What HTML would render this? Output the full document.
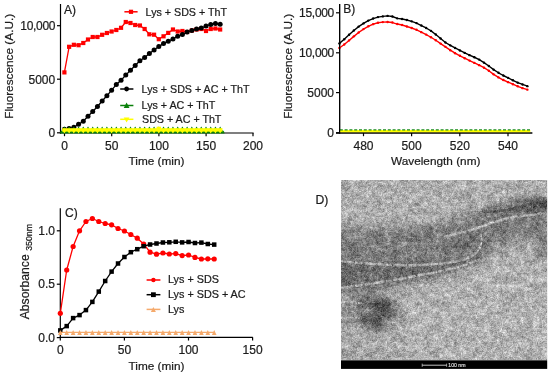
<!DOCTYPE html>
<html><head><meta charset="utf-8"><title>Figure</title>
<style>
html,body{margin:0;padding:0;background:#fff;width:550px;height:375px;overflow:hidden}
svg{display:block}
text{font-family:"Liberation Sans", Arial, Helvetica, sans-serif;fill:#1c1c1c;stroke:#1c1c1c;stroke-width:0.22px}
</style></head><body>
<svg width="550" height="375" viewBox="0 0 550 375">
<rect width="550" height="375" fill="#fff"/>
<line x1="60.5" y1="4" x2="60.5" y2="133.6" stroke="#000" stroke-width="1.2"/>
<line x1="59.9" y1="133" x2="253.6" y2="133" stroke="#000" stroke-width="1.2"/>
<line x1="57" y1="25.7" x2="60.5" y2="25.7" stroke="#000" stroke-width="1.2"/>
<text x="55.2" y="30.0" font-size="12.0" text-anchor="end" letter-spacing="-0.3">10,000</text>
<line x1="57" y1="79.2" x2="60.5" y2="79.2" stroke="#000" stroke-width="1.2"/>
<text x="55.2" y="83.5" font-size="12.0" text-anchor="end" >5000</text>
<line x1="57" y1="132.8" x2="60.5" y2="132.8" stroke="#000" stroke-width="1.2"/>
<text x="55.2" y="137.10000000000002" font-size="12.0" text-anchor="end" >0</text>
<line x1="64.5" y1="133" x2="64.5" y2="136.2" stroke="#000" stroke-width="1.2"/>
<text x="64.5" y="149.6" font-size="12.0" text-anchor="middle" >0</text>
<line x1="111.7" y1="133" x2="111.7" y2="136.2" stroke="#000" stroke-width="1.2"/>
<text x="111.7" y="149.6" font-size="12.0" text-anchor="middle" >50</text>
<line x1="158.9" y1="133" x2="158.9" y2="136.2" stroke="#000" stroke-width="1.2"/>
<text x="158.9" y="149.6" font-size="12.0" text-anchor="middle" >100</text>
<line x1="206.1" y1="133" x2="206.1" y2="136.2" stroke="#000" stroke-width="1.2"/>
<text x="206.1" y="149.6" font-size="12.0" text-anchor="middle" >150</text>
<line x1="253.0" y1="133" x2="253.0" y2="136.2" stroke="#000" stroke-width="1.2"/>
<text x="253.0" y="149.6" font-size="12.0" text-anchor="middle" >200</text>
<text x="156.5" y="165.4" font-size="11.8" text-anchor="middle" >Time (min)</text>
<text transform="translate(13.4,66.3) rotate(-90)" font-size="11.8" text-anchor="middle">Fluorescence (A.U.)</text>
<text x="64.0" y="13.5" font-size="12" text-anchor="start" >A)</text>
<polyline points="64.40,72.40 69.12,46.80 73.84,44.80 78.56,45.20 83.28,43.00 88.00,39.50 92.72,37.00 97.44,37.00 102.16,34.80 106.88,33.00 111.60,31.50 116.32,30.00 121.04,27.80 125.76,22.00 130.48,23.00 135.20,25.00 139.92,25.50 144.64,29.00 149.36,34.30 154.08,34.70 158.80,39.20 163.52,36.30 168.24,32.90 172.96,29.50 177.68,31.50 182.40,31.00 187.12,32.00 191.84,30.50 196.56,29.50 201.28,29.00 206.00,31.00 210.72,29.00 215.44,28.50 220.16,29.50" fill="none" stroke="#ff0000" stroke-width="1.3" stroke-linejoin="round"/>
<rect x="62.30" y="70.30" width="4.2" height="4.2" fill="#ff0000"/>
<rect x="67.02" y="44.70" width="4.2" height="4.2" fill="#ff0000"/>
<rect x="71.74" y="42.70" width="4.2" height="4.2" fill="#ff0000"/>
<rect x="76.46" y="43.10" width="4.2" height="4.2" fill="#ff0000"/>
<rect x="81.18" y="40.90" width="4.2" height="4.2" fill="#ff0000"/>
<rect x="85.90" y="37.40" width="4.2" height="4.2" fill="#ff0000"/>
<rect x="90.62" y="34.90" width="4.2" height="4.2" fill="#ff0000"/>
<rect x="95.34" y="34.90" width="4.2" height="4.2" fill="#ff0000"/>
<rect x="100.06" y="32.70" width="4.2" height="4.2" fill="#ff0000"/>
<rect x="104.78" y="30.90" width="4.2" height="4.2" fill="#ff0000"/>
<rect x="109.50" y="29.40" width="4.2" height="4.2" fill="#ff0000"/>
<rect x="114.22" y="27.90" width="4.2" height="4.2" fill="#ff0000"/>
<rect x="118.94" y="25.70" width="4.2" height="4.2" fill="#ff0000"/>
<rect x="123.66" y="19.90" width="4.2" height="4.2" fill="#ff0000"/>
<rect x="128.38" y="20.90" width="4.2" height="4.2" fill="#ff0000"/>
<rect x="133.10" y="22.90" width="4.2" height="4.2" fill="#ff0000"/>
<rect x="137.82" y="23.40" width="4.2" height="4.2" fill="#ff0000"/>
<rect x="142.54" y="26.90" width="4.2" height="4.2" fill="#ff0000"/>
<rect x="147.26" y="32.20" width="4.2" height="4.2" fill="#ff0000"/>
<rect x="151.98" y="32.60" width="4.2" height="4.2" fill="#ff0000"/>
<rect x="156.70" y="37.10" width="4.2" height="4.2" fill="#ff0000"/>
<rect x="161.42" y="34.20" width="4.2" height="4.2" fill="#ff0000"/>
<rect x="166.14" y="30.80" width="4.2" height="4.2" fill="#ff0000"/>
<rect x="170.86" y="27.40" width="4.2" height="4.2" fill="#ff0000"/>
<rect x="175.58" y="29.40" width="4.2" height="4.2" fill="#ff0000"/>
<rect x="180.30" y="28.90" width="4.2" height="4.2" fill="#ff0000"/>
<rect x="185.02" y="29.90" width="4.2" height="4.2" fill="#ff0000"/>
<rect x="189.74" y="28.40" width="4.2" height="4.2" fill="#ff0000"/>
<rect x="194.46" y="27.40" width="4.2" height="4.2" fill="#ff0000"/>
<rect x="199.18" y="26.90" width="4.2" height="4.2" fill="#ff0000"/>
<rect x="203.90" y="28.90" width="4.2" height="4.2" fill="#ff0000"/>
<rect x="208.62" y="26.90" width="4.2" height="4.2" fill="#ff0000"/>
<rect x="213.34" y="26.40" width="4.2" height="4.2" fill="#ff0000"/>
<rect x="218.06" y="27.40" width="4.2" height="4.2" fill="#ff0000"/>
<polyline points="64.40,129.30 69.12,128.60 73.84,127.30 78.56,124.20 83.28,121.20 88.00,116.30 92.72,111.50 97.44,106.50 102.16,101.00 106.88,95.80 111.60,90.20 116.32,84.60 121.04,80.20 125.76,75.10 130.48,70.20 135.20,65.50 139.92,60.80 144.64,57.50 149.36,53.50 154.08,50.00 158.80,46.40 163.52,43.60 168.24,41.20 172.96,39.00 177.68,36.20 182.40,34.50 187.12,32.00 191.84,30.50 196.56,29.00 201.28,28.00 206.00,26.00 210.72,24.50 215.44,23.50 220.16,24.30" fill="none" stroke="#000" stroke-width="1.3" stroke-linejoin="round"/>
<circle cx="64.40" cy="129.30" r="2.5" fill="#000"/>
<circle cx="69.12" cy="128.60" r="2.5" fill="#000"/>
<circle cx="73.84" cy="127.30" r="2.5" fill="#000"/>
<circle cx="78.56" cy="124.20" r="2.5" fill="#000"/>
<circle cx="83.28" cy="121.20" r="2.5" fill="#000"/>
<circle cx="88.00" cy="116.30" r="2.5" fill="#000"/>
<circle cx="92.72" cy="111.50" r="2.5" fill="#000"/>
<circle cx="97.44" cy="106.50" r="2.5" fill="#000"/>
<circle cx="102.16" cy="101.00" r="2.5" fill="#000"/>
<circle cx="106.88" cy="95.80" r="2.5" fill="#000"/>
<circle cx="111.60" cy="90.20" r="2.5" fill="#000"/>
<circle cx="116.32" cy="84.60" r="2.5" fill="#000"/>
<circle cx="121.04" cy="80.20" r="2.5" fill="#000"/>
<circle cx="125.76" cy="75.10" r="2.5" fill="#000"/>
<circle cx="130.48" cy="70.20" r="2.5" fill="#000"/>
<circle cx="135.20" cy="65.50" r="2.5" fill="#000"/>
<circle cx="139.92" cy="60.80" r="2.5" fill="#000"/>
<circle cx="144.64" cy="57.50" r="2.5" fill="#000"/>
<circle cx="149.36" cy="53.50" r="2.5" fill="#000"/>
<circle cx="154.08" cy="50.00" r="2.5" fill="#000"/>
<circle cx="158.80" cy="46.40" r="2.5" fill="#000"/>
<circle cx="163.52" cy="43.60" r="2.5" fill="#000"/>
<circle cx="168.24" cy="41.20" r="2.5" fill="#000"/>
<circle cx="172.96" cy="39.00" r="2.5" fill="#000"/>
<circle cx="177.68" cy="36.20" r="2.5" fill="#000"/>
<circle cx="182.40" cy="34.50" r="2.5" fill="#000"/>
<circle cx="187.12" cy="32.00" r="2.5" fill="#000"/>
<circle cx="191.84" cy="30.50" r="2.5" fill="#000"/>
<circle cx="196.56" cy="29.00" r="2.5" fill="#000"/>
<circle cx="201.28" cy="28.00" r="2.5" fill="#000"/>
<circle cx="206.00" cy="26.00" r="2.5" fill="#000"/>
<circle cx="210.72" cy="24.50" r="2.5" fill="#000"/>
<circle cx="215.44" cy="23.50" r="2.5" fill="#000"/>
<circle cx="220.16" cy="24.30" r="2.5" fill="#000"/>
<polygon points="64.40,126.60 63.00,128.80 65.80,128.80" fill="#0a800a"/>
<polygon points="69.12,126.60 67.72,128.80 70.52,128.80" fill="#0a800a"/>
<polygon points="73.84,126.60 72.44,128.80 75.24,128.80" fill="#0a800a"/>
<polygon points="78.56,126.60 77.16,128.80 79.96,128.80" fill="#0a800a"/>
<polygon points="83.28,126.60 81.88,128.80 84.68,128.80" fill="#0a800a"/>
<polygon points="88.00,126.60 86.60,128.80 89.40,128.80" fill="#0a800a"/>
<polygon points="92.72,126.60 91.32,128.80 94.12,128.80" fill="#0a800a"/>
<polygon points="97.44,126.60 96.04,128.80 98.84,128.80" fill="#0a800a"/>
<polygon points="102.16,126.60 100.76,128.80 103.56,128.80" fill="#0a800a"/>
<polygon points="106.88,126.60 105.48,128.80 108.28,128.80" fill="#0a800a"/>
<polygon points="111.60,126.60 110.20,128.80 113.00,128.80" fill="#0a800a"/>
<polygon points="116.32,126.60 114.92,128.80 117.72,128.80" fill="#0a800a"/>
<polygon points="121.04,126.60 119.64,128.80 122.44,128.80" fill="#0a800a"/>
<polygon points="125.76,126.60 124.36,128.80 127.16,128.80" fill="#0a800a"/>
<polygon points="130.48,126.60 129.08,128.80 131.88,128.80" fill="#0a800a"/>
<polygon points="135.20,126.60 133.80,128.80 136.60,128.80" fill="#0a800a"/>
<polygon points="139.92,126.60 138.52,128.80 141.32,128.80" fill="#0a800a"/>
<polygon points="144.64,126.60 143.24,128.80 146.04,128.80" fill="#0a800a"/>
<polygon points="149.36,126.60 147.96,128.80 150.76,128.80" fill="#0a800a"/>
<polygon points="154.08,126.60 152.68,128.80 155.48,128.80" fill="#0a800a"/>
<polygon points="158.80,126.60 157.40,128.80 160.20,128.80" fill="#0a800a"/>
<polygon points="163.52,126.60 162.12,128.80 164.92,128.80" fill="#0a800a"/>
<polygon points="168.24,126.60 166.84,128.80 169.64,128.80" fill="#0a800a"/>
<polygon points="172.96,126.60 171.56,128.80 174.36,128.80" fill="#0a800a"/>
<polygon points="177.68,126.60 176.28,128.80 179.08,128.80" fill="#0a800a"/>
<polygon points="182.40,126.60 181.00,128.80 183.80,128.80" fill="#0a800a"/>
<polygon points="187.12,126.60 185.72,128.80 188.52,128.80" fill="#0a800a"/>
<polygon points="191.84,126.60 190.44,128.80 193.24,128.80" fill="#0a800a"/>
<polygon points="196.56,126.60 195.16,128.80 197.96,128.80" fill="#0a800a"/>
<polygon points="201.28,126.60 199.88,128.80 202.68,128.80" fill="#0a800a"/>
<polygon points="206.00,126.60 204.60,128.80 207.40,128.80" fill="#0a800a"/>
<polygon points="210.72,126.60 209.32,128.80 212.12,128.80" fill="#0a800a"/>
<polygon points="215.44,126.60 214.04,128.80 216.84,128.80" fill="#0a800a"/>
<polygon points="220.16,126.60 218.76,128.80 221.56,128.80" fill="#0a800a"/>
<path d="M60.00,133.6 C60.20,131.0 61.30,130.3 62.40,130.3 C63.50,130.3 64.60,131.0 64.80,133.6 Z" fill="#0a800a"/>
<path d="M64.36,133.6 C64.56,131.0 65.66,130.3 66.76,130.3 C67.86,130.3 68.96,131.0 69.16,133.6 Z" fill="#0a800a"/>
<path d="M69.08,133.6 C69.28,131.0 70.38,130.3 71.48,130.3 C72.58,130.3 73.68,131.0 73.88,133.6 Z" fill="#0a800a"/>
<path d="M73.80,133.6 C74.00,131.0 75.10,130.3 76.20,130.3 C77.30,130.3 78.40,131.0 78.60,133.6 Z" fill="#0a800a"/>
<path d="M78.52,133.6 C78.72,131.0 79.82,130.3 80.92,130.3 C82.02,130.3 83.12,131.0 83.32,133.6 Z" fill="#0a800a"/>
<path d="M83.24,133.6 C83.44,131.0 84.54,130.3 85.64,130.3 C86.74,130.3 87.84,131.0 88.04,133.6 Z" fill="#0a800a"/>
<path d="M87.96,133.6 C88.16,131.0 89.26,130.3 90.36,130.3 C91.46,130.3 92.56,131.0 92.76,133.6 Z" fill="#0a800a"/>
<path d="M92.68,133.6 C92.88,131.0 93.98,130.3 95.08,130.3 C96.18,130.3 97.28,131.0 97.48,133.6 Z" fill="#0a800a"/>
<path d="M97.40,133.6 C97.60,131.0 98.70,130.3 99.80,130.3 C100.90,130.3 102.00,131.0 102.20,133.6 Z" fill="#0a800a"/>
<path d="M102.12,133.6 C102.32,131.0 103.42,130.3 104.52,130.3 C105.62,130.3 106.72,131.0 106.92,133.6 Z" fill="#0a800a"/>
<path d="M106.84,133.6 C107.04,131.0 108.14,130.3 109.24,130.3 C110.34,130.3 111.44,131.0 111.64,133.6 Z" fill="#0a800a"/>
<path d="M111.56,133.6 C111.76,131.0 112.86,130.3 113.96,130.3 C115.06,130.3 116.16,131.0 116.36,133.6 Z" fill="#0a800a"/>
<path d="M116.28,133.6 C116.48,131.0 117.58,130.3 118.68,130.3 C119.78,130.3 120.88,131.0 121.08,133.6 Z" fill="#0a800a"/>
<path d="M121.00,133.6 C121.20,131.0 122.30,130.3 123.40,130.3 C124.50,130.3 125.60,131.0 125.80,133.6 Z" fill="#0a800a"/>
<path d="M125.72,133.6 C125.92,131.0 127.02,130.3 128.12,130.3 C129.22,130.3 130.32,131.0 130.52,133.6 Z" fill="#0a800a"/>
<path d="M130.44,133.6 C130.64,131.0 131.74,130.3 132.84,130.3 C133.94,130.3 135.04,131.0 135.24,133.6 Z" fill="#0a800a"/>
<path d="M135.16,133.6 C135.36,131.0 136.46,130.3 137.56,130.3 C138.66,130.3 139.76,131.0 139.96,133.6 Z" fill="#0a800a"/>
<path d="M139.88,133.6 C140.08,131.0 141.18,130.3 142.28,130.3 C143.38,130.3 144.48,131.0 144.68,133.6 Z" fill="#0a800a"/>
<path d="M144.60,133.6 C144.80,131.0 145.90,130.3 147.00,130.3 C148.10,130.3 149.20,131.0 149.40,133.6 Z" fill="#0a800a"/>
<path d="M149.32,133.6 C149.52,131.0 150.62,130.3 151.72,130.3 C152.82,130.3 153.92,131.0 154.12,133.6 Z" fill="#0a800a"/>
<path d="M154.04,133.6 C154.24,131.0 155.34,130.3 156.44,130.3 C157.54,130.3 158.64,131.0 158.84,133.6 Z" fill="#0a800a"/>
<path d="M158.76,133.6 C158.96,131.0 160.06,130.3 161.16,130.3 C162.26,130.3 163.36,131.0 163.56,133.6 Z" fill="#0a800a"/>
<path d="M163.48,133.6 C163.68,131.0 164.78,130.3 165.88,130.3 C166.98,130.3 168.08,131.0 168.28,133.6 Z" fill="#0a800a"/>
<path d="M168.20,133.6 C168.40,131.0 169.50,130.3 170.60,130.3 C171.70,130.3 172.80,131.0 173.00,133.6 Z" fill="#0a800a"/>
<path d="M172.92,133.6 C173.12,131.0 174.22,130.3 175.32,130.3 C176.42,130.3 177.52,131.0 177.72,133.6 Z" fill="#0a800a"/>
<path d="M177.64,133.6 C177.84,131.0 178.94,130.3 180.04,130.3 C181.14,130.3 182.24,131.0 182.44,133.6 Z" fill="#0a800a"/>
<path d="M182.36,133.6 C182.56,131.0 183.66,130.3 184.76,130.3 C185.86,130.3 186.96,131.0 187.16,133.6 Z" fill="#0a800a"/>
<path d="M187.08,133.6 C187.28,131.0 188.38,130.3 189.48,130.3 C190.58,130.3 191.68,131.0 191.88,133.6 Z" fill="#0a800a"/>
<path d="M191.80,133.6 C192.00,131.0 193.10,130.3 194.20,130.3 C195.30,130.3 196.40,131.0 196.60,133.6 Z" fill="#0a800a"/>
<path d="M196.52,133.6 C196.72,131.0 197.82,130.3 198.92,130.3 C200.02,130.3 201.12,131.0 201.32,133.6 Z" fill="#0a800a"/>
<path d="M201.24,133.6 C201.44,131.0 202.54,130.3 203.64,130.3 C204.74,130.3 205.84,131.0 206.04,133.6 Z" fill="#0a800a"/>
<path d="M205.96,133.6 C206.16,131.0 207.26,130.3 208.36,130.3 C209.46,130.3 210.56,131.0 210.76,133.6 Z" fill="#0a800a"/>
<path d="M210.68,133.6 C210.88,131.0 211.98,130.3 213.08,130.3 C214.18,130.3 215.28,131.0 215.48,133.6 Z" fill="#0a800a"/>
<path d="M215.40,133.6 C215.60,131.0 216.70,130.3 217.80,130.3 C218.90,130.3 220.00,131.0 220.20,133.6 Z" fill="#0a800a"/>
<path d="M219.76,133.6 C219.96,131.0 221.06,130.3 222.16,130.3 C223.26,130.3 224.36,131.0 224.56,133.6 Z" fill="#0a800a"/>
<rect x="62.10" y="128.2" width="160.36" height="3.4" fill="#ffff00"/>
<polygon points="62.70,130.8 66.10,130.8 64.40,133.4" fill="#ffff00"/>
<polygon points="67.42,130.8 70.82,130.8 69.12,133.4" fill="#ffff00"/>
<polygon points="72.14,130.8 75.54,130.8 73.84,133.4" fill="#ffff00"/>
<polygon points="76.86,130.8 80.26,130.8 78.56,133.4" fill="#ffff00"/>
<polygon points="81.58,130.8 84.98,130.8 83.28,133.4" fill="#ffff00"/>
<polygon points="86.30,130.8 89.70,130.8 88.00,133.4" fill="#ffff00"/>
<polygon points="91.02,130.8 94.42,130.8 92.72,133.4" fill="#ffff00"/>
<polygon points="95.74,130.8 99.14,130.8 97.44,133.4" fill="#ffff00"/>
<polygon points="100.46,130.8 103.86,130.8 102.16,133.4" fill="#ffff00"/>
<polygon points="105.18,130.8 108.58,130.8 106.88,133.4" fill="#ffff00"/>
<polygon points="109.90,130.8 113.30,130.8 111.60,133.4" fill="#ffff00"/>
<polygon points="114.62,130.8 118.02,130.8 116.32,133.4" fill="#ffff00"/>
<polygon points="119.34,130.8 122.74,130.8 121.04,133.4" fill="#ffff00"/>
<polygon points="124.06,130.8 127.46,130.8 125.76,133.4" fill="#ffff00"/>
<polygon points="128.78,130.8 132.18,130.8 130.48,133.4" fill="#ffff00"/>
<polygon points="133.50,130.8 136.90,130.8 135.20,133.4" fill="#ffff00"/>
<polygon points="138.22,130.8 141.62,130.8 139.92,133.4" fill="#ffff00"/>
<polygon points="142.94,130.8 146.34,130.8 144.64,133.4" fill="#ffff00"/>
<polygon points="147.66,130.8 151.06,130.8 149.36,133.4" fill="#ffff00"/>
<polygon points="152.38,130.8 155.78,130.8 154.08,133.4" fill="#ffff00"/>
<polygon points="157.10,130.8 160.50,130.8 158.80,133.4" fill="#ffff00"/>
<polygon points="161.82,130.8 165.22,130.8 163.52,133.4" fill="#ffff00"/>
<polygon points="166.54,130.8 169.94,130.8 168.24,133.4" fill="#ffff00"/>
<polygon points="171.26,130.8 174.66,130.8 172.96,133.4" fill="#ffff00"/>
<polygon points="175.98,130.8 179.38,130.8 177.68,133.4" fill="#ffff00"/>
<polygon points="180.70,130.8 184.10,130.8 182.40,133.4" fill="#ffff00"/>
<polygon points="185.42,130.8 188.82,130.8 187.12,133.4" fill="#ffff00"/>
<polygon points="190.14,130.8 193.54,130.8 191.84,133.4" fill="#ffff00"/>
<polygon points="194.86,130.8 198.26,130.8 196.56,133.4" fill="#ffff00"/>
<polygon points="199.58,130.8 202.98,130.8 201.28,133.4" fill="#ffff00"/>
<polygon points="204.30,130.8 207.70,130.8 206.00,133.4" fill="#ffff00"/>
<polygon points="209.02,130.8 212.42,130.8 210.72,133.4" fill="#ffff00"/>
<polygon points="213.74,130.8 217.14,130.8 215.44,133.4" fill="#ffff00"/>
<polygon points="218.46,130.8 221.86,130.8 220.16,133.4" fill="#ffff00"/>
<rect x="156.60" y="126.7" width="4.4" height="2.2" fill="#ffff00"/>
<line x1="124.4" y1="11.8" x2="137.6" y2="11.8" stroke="#ff0000" stroke-width="1.5"/>
<rect x="128.90" y="9.70" width="4.2" height="4.2" fill="#ff0000"/>
<text x="145.6" y="15.5" font-size="10.7" text-anchor="start" >Lys + SDS + ThT</text>
<line x1="120.2" y1="89.0" x2="133.4" y2="89.0" stroke="#000" stroke-width="1.5"/>
<circle cx="126.60" cy="89.00" r="2.4" fill="#000"/>
<text x="141.6" y="92.6" font-size="10.7" text-anchor="start" >Lys + SDS + AC + ThT</text>
<line x1="120.2" y1="105.5" x2="133.4" y2="105.5" stroke="#0a800a" stroke-width="1.5"/>
<polygon points="126.60,102.60 123.70,108.00 129.50,108.00" fill="#0a800a"/>
<text x="141.6" y="108.8" font-size="10.7" text-anchor="start" >Lys + AC + ThT</text>
<line x1="120.2" y1="119.3" x2="133.4" y2="119.3" stroke="#ffff00" stroke-width="1.5"/>
<polygon points="126.60,122.40 123.70,117.40 129.50,117.40" fill="#ffff00"/>
<text x="142" y="123.0" font-size="10.7" text-anchor="start" >SDS + AC + ThT</text>
<line x1="339.6" y1="4" x2="339.6" y2="133.6" stroke="#000" stroke-width="1.2"/>
<line x1="336" y1="133" x2="532.3" y2="133" stroke="#000" stroke-width="1.2"/>
<line x1="336" y1="12.8" x2="339.6" y2="12.8" stroke="#000" stroke-width="1.2"/>
<text x="334.0" y="17.1" font-size="12.0" text-anchor="end" letter-spacing="-0.3">15,000</text>
<line x1="336" y1="52.8" x2="339.6" y2="52.8" stroke="#000" stroke-width="1.2"/>
<text x="334.0" y="57.099999999999994" font-size="12.0" text-anchor="end" letter-spacing="-0.3">10,000</text>
<line x1="336" y1="92.6" x2="339.6" y2="92.6" stroke="#000" stroke-width="1.2"/>
<text x="334.0" y="96.89999999999999" font-size="12.0" text-anchor="end" >5000</text>
<line x1="336" y1="132.8" x2="339.6" y2="132.8" stroke="#000" stroke-width="1.2"/>
<text x="334.0" y="137.10000000000002" font-size="12.0" text-anchor="end" >0</text>
<line x1="363.5" y1="133" x2="363.5" y2="136.2" stroke="#000" stroke-width="1.2"/>
<text x="363.5" y="149.6" font-size="12.0" text-anchor="middle" >480</text>
<line x1="411.6" y1="133" x2="411.6" y2="136.2" stroke="#000" stroke-width="1.2"/>
<text x="411.6" y="149.6" font-size="12.0" text-anchor="middle" >500</text>
<line x1="459.8" y1="133" x2="459.8" y2="136.2" stroke="#000" stroke-width="1.2"/>
<text x="459.8" y="149.6" font-size="12.0" text-anchor="middle" >520</text>
<line x1="508.0" y1="133" x2="508.0" y2="136.2" stroke="#000" stroke-width="1.2"/>
<text x="508.0" y="149.6" font-size="12.0" text-anchor="middle" >540</text>
<text x="435.7" y="165.4" font-size="11.8" text-anchor="middle" >Wavelength (nm)</text>
<text transform="translate(292.2,66.3) rotate(-90)" font-size="11.8" text-anchor="middle">Fluorescence (A.U.)</text>
<text x="343.2" y="13.2" font-size="12" text-anchor="start" >B)</text>
<line x1="339.6" y1="131.3" x2="530.3" y2="131.3" stroke="#ffff00" stroke-width="2.4"/>
<line x1="339.8" y1="129.9" x2="530.3" y2="129.9" stroke="#1a8c1a" stroke-width="1.1" stroke-dasharray="3 1.8"/>
<polyline points="339.40,48.00 344.22,44.48 349.04,40.41 353.86,36.36 358.68,32.51 363.50,29.08 368.32,26.28 373.14,24.17 377.96,22.71 382.78,22.08 387.60,22.00 392.42,22.56 397.24,24.06 402.06,25.03 406.88,26.54 411.70,28.00 416.52,29.82 421.34,32.17 426.16,34.62 430.98,37.26 435.80,40.27 440.62,43.61 445.44,46.83 450.26,50.18 455.08,53.19 459.90,55.78 464.72,58.24 469.54,60.62 474.36,62.89 479.18,65.15 484.00,67.71 488.82,70.78 493.64,74.33 498.46,77.42 503.28,80.01 508.10,82.14 512.92,84.23 517.74,86.29 522.56,88.15 527.38,89.63" fill="none" stroke="#ff0000" stroke-width="1.4" stroke-linejoin="round"/>
<circle cx="339.40" cy="48.00" r="1.2" fill="#ff0000"/>
<circle cx="344.22" cy="44.48" r="1.2" fill="#ff0000"/>
<circle cx="349.04" cy="40.41" r="1.2" fill="#ff0000"/>
<circle cx="353.86" cy="36.36" r="1.2" fill="#ff0000"/>
<circle cx="358.68" cy="32.51" r="1.2" fill="#ff0000"/>
<circle cx="363.50" cy="29.08" r="1.2" fill="#ff0000"/>
<circle cx="368.32" cy="26.28" r="1.2" fill="#ff0000"/>
<circle cx="373.14" cy="24.17" r="1.2" fill="#ff0000"/>
<circle cx="377.96" cy="22.71" r="1.2" fill="#ff0000"/>
<circle cx="382.78" cy="22.08" r="1.2" fill="#ff0000"/>
<circle cx="387.60" cy="22.00" r="1.2" fill="#ff0000"/>
<circle cx="392.42" cy="22.56" r="1.2" fill="#ff0000"/>
<circle cx="397.24" cy="24.06" r="1.2" fill="#ff0000"/>
<circle cx="402.06" cy="25.03" r="1.2" fill="#ff0000"/>
<circle cx="406.88" cy="26.54" r="1.2" fill="#ff0000"/>
<circle cx="411.70" cy="28.00" r="1.2" fill="#ff0000"/>
<circle cx="416.52" cy="29.82" r="1.2" fill="#ff0000"/>
<circle cx="421.34" cy="32.17" r="1.2" fill="#ff0000"/>
<circle cx="426.16" cy="34.62" r="1.2" fill="#ff0000"/>
<circle cx="430.98" cy="37.26" r="1.2" fill="#ff0000"/>
<circle cx="435.80" cy="40.27" r="1.2" fill="#ff0000"/>
<circle cx="440.62" cy="43.61" r="1.2" fill="#ff0000"/>
<circle cx="445.44" cy="46.83" r="1.2" fill="#ff0000"/>
<circle cx="450.26" cy="50.18" r="1.2" fill="#ff0000"/>
<circle cx="455.08" cy="53.19" r="1.2" fill="#ff0000"/>
<circle cx="459.90" cy="55.78" r="1.2" fill="#ff0000"/>
<circle cx="464.72" cy="58.24" r="1.2" fill="#ff0000"/>
<circle cx="469.54" cy="60.62" r="1.2" fill="#ff0000"/>
<circle cx="474.36" cy="62.89" r="1.2" fill="#ff0000"/>
<circle cx="479.18" cy="65.15" r="1.2" fill="#ff0000"/>
<circle cx="484.00" cy="67.71" r="1.2" fill="#ff0000"/>
<circle cx="488.82" cy="70.78" r="1.2" fill="#ff0000"/>
<circle cx="493.64" cy="74.33" r="1.2" fill="#ff0000"/>
<circle cx="498.46" cy="77.42" r="1.2" fill="#ff0000"/>
<circle cx="503.28" cy="80.01" r="1.2" fill="#ff0000"/>
<circle cx="508.10" cy="82.14" r="1.2" fill="#ff0000"/>
<circle cx="512.92" cy="84.23" r="1.2" fill="#ff0000"/>
<circle cx="517.74" cy="86.29" r="1.2" fill="#ff0000"/>
<circle cx="522.56" cy="88.15" r="1.2" fill="#ff0000"/>
<circle cx="527.38" cy="89.63" r="1.2" fill="#ff0000"/>
<polyline points="339.40,43.40 344.22,39.18 349.04,34.75 353.86,30.52 358.68,26.62 363.50,23.38 368.32,20.60 373.14,18.57 377.96,17.11 382.78,16.39 387.60,15.90 392.42,16.49 397.24,18.33 402.06,18.97 406.88,19.96 411.70,21.35 416.52,23.08 421.34,25.54 426.16,27.98 430.98,30.87 435.80,34.56 440.62,38.56 445.44,42.49 450.26,45.37 455.08,47.99 459.90,50.48 464.72,52.88 469.54,55.13 474.36,57.25 479.18,59.62 484.00,62.67 488.82,66.00 493.64,69.63 498.46,72.77 503.28,75.50 508.10,77.87 512.92,80.32 517.74,82.67 522.56,84.46 527.38,86.13" fill="none" stroke="#000" stroke-width="1.4" stroke-linejoin="round"/>
<circle cx="339.40" cy="43.40" r="1.2" fill="#000"/>
<circle cx="344.22" cy="39.18" r="1.2" fill="#000"/>
<circle cx="349.04" cy="34.75" r="1.2" fill="#000"/>
<circle cx="353.86" cy="30.52" r="1.2" fill="#000"/>
<circle cx="358.68" cy="26.62" r="1.2" fill="#000"/>
<circle cx="363.50" cy="23.38" r="1.2" fill="#000"/>
<circle cx="368.32" cy="20.60" r="1.2" fill="#000"/>
<circle cx="373.14" cy="18.57" r="1.2" fill="#000"/>
<circle cx="377.96" cy="17.11" r="1.2" fill="#000"/>
<circle cx="382.78" cy="16.39" r="1.2" fill="#000"/>
<circle cx="387.60" cy="15.90" r="1.2" fill="#000"/>
<circle cx="392.42" cy="16.49" r="1.2" fill="#000"/>
<circle cx="397.24" cy="18.33" r="1.2" fill="#000"/>
<circle cx="402.06" cy="18.97" r="1.2" fill="#000"/>
<circle cx="406.88" cy="19.96" r="1.2" fill="#000"/>
<circle cx="411.70" cy="21.35" r="1.2" fill="#000"/>
<circle cx="416.52" cy="23.08" r="1.2" fill="#000"/>
<circle cx="421.34" cy="25.54" r="1.2" fill="#000"/>
<circle cx="426.16" cy="27.98" r="1.2" fill="#000"/>
<circle cx="430.98" cy="30.87" r="1.2" fill="#000"/>
<circle cx="435.80" cy="34.56" r="1.2" fill="#000"/>
<circle cx="440.62" cy="38.56" r="1.2" fill="#000"/>
<circle cx="445.44" cy="42.49" r="1.2" fill="#000"/>
<circle cx="450.26" cy="45.37" r="1.2" fill="#000"/>
<circle cx="455.08" cy="47.99" r="1.2" fill="#000"/>
<circle cx="459.90" cy="50.48" r="1.2" fill="#000"/>
<circle cx="464.72" cy="52.88" r="1.2" fill="#000"/>
<circle cx="469.54" cy="55.13" r="1.2" fill="#000"/>
<circle cx="474.36" cy="57.25" r="1.2" fill="#000"/>
<circle cx="479.18" cy="59.62" r="1.2" fill="#000"/>
<circle cx="484.00" cy="62.67" r="1.2" fill="#000"/>
<circle cx="488.82" cy="66.00" r="1.2" fill="#000"/>
<circle cx="493.64" cy="69.63" r="1.2" fill="#000"/>
<circle cx="498.46" cy="72.77" r="1.2" fill="#000"/>
<circle cx="503.28" cy="75.50" r="1.2" fill="#000"/>
<circle cx="508.10" cy="77.87" r="1.2" fill="#000"/>
<circle cx="512.92" cy="80.32" r="1.2" fill="#000"/>
<circle cx="517.74" cy="82.67" r="1.2" fill="#000"/>
<circle cx="522.56" cy="84.46" r="1.2" fill="#000"/>
<circle cx="527.38" cy="86.13" r="1.2" fill="#000"/>
<line x1="339.6" y1="4" x2="339.6" y2="133.6" stroke="#000" stroke-width="1.2"/>
<line x1="336" y1="133" x2="532.3" y2="133" stroke="#000" stroke-width="1.2"/>
<line x1="60.3" y1="208.3" x2="60.3" y2="337.90000000000003" stroke="#000" stroke-width="1.2"/>
<line x1="59.699999999999996" y1="337.3" x2="252.8" y2="337.3" stroke="#000" stroke-width="1.2"/>
<line x1="56.8" y1="230.8" x2="60.3" y2="230.8" stroke="#000" stroke-width="1.2"/>
<text x="55.0" y="235.0" font-size="12.0" text-anchor="end" >1.0</text>
<line x1="56.8" y1="284.2" x2="60.3" y2="284.2" stroke="#000" stroke-width="1.2"/>
<text x="55.0" y="288.4" font-size="12.0" text-anchor="end" >0.5</text>
<line x1="56.8" y1="337.6" x2="60.3" y2="337.6" stroke="#000" stroke-width="1.2"/>
<text x="55.0" y="341.8" font-size="12.0" text-anchor="end" >0.0</text>
<line x1="60.3" y1="337.3" x2="60.3" y2="340.5" stroke="#000" stroke-width="1.2"/>
<text x="60.3" y="353.8" font-size="12.0" text-anchor="middle" >0</text>
<line x1="124.4" y1="337.3" x2="124.4" y2="340.5" stroke="#000" stroke-width="1.2"/>
<text x="124.4" y="353.8" font-size="12.0" text-anchor="middle" >50</text>
<line x1="188.5" y1="337.3" x2="188.5" y2="340.5" stroke="#000" stroke-width="1.2"/>
<text x="188.5" y="353.8" font-size="12.0" text-anchor="middle" >100</text>
<line x1="252.6" y1="337.3" x2="252.6" y2="340.5" stroke="#000" stroke-width="1.2"/>
<text x="252.6" y="353.8" font-size="12.0" text-anchor="middle" >150</text>
<text x="156.5" y="369.6" font-size="11.8" text-anchor="middle" >Time (min)</text>
<text transform="translate(29.4,319.3) rotate(-90)" font-size="12.2" text-anchor="start">Absorbance <tspan font-size="8.8" dy="2.6">350nm</tspan></text>
<text x="65.0" y="216.6" font-size="12" text-anchor="start" >C)</text>
<polyline points="60.30,313.30 66.71,270.00 73.13,246.50 79.54,230.80 85.95,221.50 92.36,218.50 98.78,221.50 105.19,223.50 111.60,224.80 118.02,228.50 124.43,231.00 130.84,234.50 137.26,238.20 143.67,244.00 150.08,252.20 156.50,254.20 162.91,253.00 169.32,254.00 175.73,253.60 182.15,255.60 188.56,255.00 194.97,257.40 201.39,259.00 207.80,258.80 214.21,259.00" fill="none" stroke="#ff0000" stroke-width="1.3" stroke-linejoin="round"/>
<circle cx="60.30" cy="313.30" r="2.6" fill="#ff0000"/>
<circle cx="66.71" cy="270.00" r="2.6" fill="#ff0000"/>
<circle cx="73.13" cy="246.50" r="2.6" fill="#ff0000"/>
<circle cx="79.54" cy="230.80" r="2.6" fill="#ff0000"/>
<circle cx="85.95" cy="221.50" r="2.6" fill="#ff0000"/>
<circle cx="92.36" cy="218.50" r="2.6" fill="#ff0000"/>
<circle cx="98.78" cy="221.50" r="2.6" fill="#ff0000"/>
<circle cx="105.19" cy="223.50" r="2.6" fill="#ff0000"/>
<circle cx="111.60" cy="224.80" r="2.6" fill="#ff0000"/>
<circle cx="118.02" cy="228.50" r="2.6" fill="#ff0000"/>
<circle cx="124.43" cy="231.00" r="2.6" fill="#ff0000"/>
<circle cx="130.84" cy="234.50" r="2.6" fill="#ff0000"/>
<circle cx="137.26" cy="238.20" r="2.6" fill="#ff0000"/>
<circle cx="143.67" cy="244.00" r="2.6" fill="#ff0000"/>
<circle cx="150.08" cy="252.20" r="2.6" fill="#ff0000"/>
<circle cx="156.50" cy="254.20" r="2.6" fill="#ff0000"/>
<circle cx="162.91" cy="253.00" r="2.6" fill="#ff0000"/>
<circle cx="169.32" cy="254.00" r="2.6" fill="#ff0000"/>
<circle cx="175.73" cy="253.60" r="2.6" fill="#ff0000"/>
<circle cx="182.15" cy="255.60" r="2.6" fill="#ff0000"/>
<circle cx="188.56" cy="255.00" r="2.6" fill="#ff0000"/>
<circle cx="194.97" cy="257.40" r="2.6" fill="#ff0000"/>
<circle cx="201.39" cy="259.00" r="2.6" fill="#ff0000"/>
<circle cx="207.80" cy="258.80" r="2.6" fill="#ff0000"/>
<circle cx="214.21" cy="259.00" r="2.6" fill="#ff0000"/>
<polyline points="60.30,330.40 66.71,326.10 73.13,318.10 79.54,315.10 85.95,310.10 92.36,301.90 98.78,291.60 105.19,281.00 111.60,271.60 118.02,263.50 124.43,257.00 130.84,252.20 137.26,249.20 143.67,246.20 150.08,244.50 156.50,243.50 162.91,242.50 169.32,242.30 175.73,241.80 182.15,242.40 188.56,242.00 194.97,243.00 201.39,242.60 207.80,244.00 214.21,244.60" fill="none" stroke="#000" stroke-width="1.3" stroke-linejoin="round"/>
<rect x="58.05" y="328.15" width="4.5" height="4.5" fill="#000"/>
<rect x="64.46" y="323.85" width="4.5" height="4.5" fill="#000"/>
<rect x="70.88" y="315.85" width="4.5" height="4.5" fill="#000"/>
<rect x="77.29" y="312.85" width="4.5" height="4.5" fill="#000"/>
<rect x="83.70" y="307.85" width="4.5" height="4.5" fill="#000"/>
<rect x="90.11" y="299.65" width="4.5" height="4.5" fill="#000"/>
<rect x="96.53" y="289.35" width="4.5" height="4.5" fill="#000"/>
<rect x="102.94" y="278.75" width="4.5" height="4.5" fill="#000"/>
<rect x="109.35" y="269.35" width="4.5" height="4.5" fill="#000"/>
<rect x="115.77" y="261.25" width="4.5" height="4.5" fill="#000"/>
<rect x="122.18" y="254.75" width="4.5" height="4.5" fill="#000"/>
<rect x="128.59" y="249.95" width="4.5" height="4.5" fill="#000"/>
<rect x="135.01" y="246.95" width="4.5" height="4.5" fill="#000"/>
<rect x="141.42" y="243.95" width="4.5" height="4.5" fill="#000"/>
<rect x="147.83" y="242.25" width="4.5" height="4.5" fill="#000"/>
<rect x="154.25" y="241.25" width="4.5" height="4.5" fill="#000"/>
<rect x="160.66" y="240.25" width="4.5" height="4.5" fill="#000"/>
<rect x="167.07" y="240.05" width="4.5" height="4.5" fill="#000"/>
<rect x="173.48" y="239.55" width="4.5" height="4.5" fill="#000"/>
<rect x="179.90" y="240.15" width="4.5" height="4.5" fill="#000"/>
<rect x="186.31" y="239.75" width="4.5" height="4.5" fill="#000"/>
<rect x="192.72" y="240.75" width="4.5" height="4.5" fill="#000"/>
<rect x="199.14" y="240.35" width="4.5" height="4.5" fill="#000"/>
<rect x="205.55" y="241.75" width="4.5" height="4.5" fill="#000"/>
<rect x="211.96" y="242.35" width="4.5" height="4.5" fill="#000"/>
<polyline points="60.30,332.40 66.71,332.40 73.13,332.40 79.54,332.40 85.95,332.40 92.36,332.40 98.78,332.40 105.19,332.40 111.60,332.40 118.02,332.40 124.43,332.40 130.84,332.40 137.26,332.40 143.67,332.40 150.08,332.40 156.50,332.40 162.91,332.40 169.32,332.40 175.73,332.40 182.15,332.40 188.56,332.40 194.97,332.40 201.39,332.40 207.80,332.40 214.21,332.40" fill="none" stroke="#f5aa6c" stroke-width="1.2" stroke-linejoin="round"/>
<polygon points="60.30,329.90 58.00,334.90 62.60,334.90" fill="#f5aa6c"/>
<polygon points="66.71,329.90 64.41,334.90 69.01,334.90" fill="#f5aa6c"/>
<polygon points="73.13,329.90 70.83,334.90 75.43,334.90" fill="#f5aa6c"/>
<polygon points="79.54,329.90 77.24,334.90 81.84,334.90" fill="#f5aa6c"/>
<polygon points="85.95,329.90 83.65,334.90 88.25,334.90" fill="#f5aa6c"/>
<polygon points="92.36,329.90 90.06,334.90 94.66,334.90" fill="#f5aa6c"/>
<polygon points="98.78,329.90 96.48,334.90 101.08,334.90" fill="#f5aa6c"/>
<polygon points="105.19,329.90 102.89,334.90 107.49,334.90" fill="#f5aa6c"/>
<polygon points="111.60,329.90 109.30,334.90 113.90,334.90" fill="#f5aa6c"/>
<polygon points="118.02,329.90 115.72,334.90 120.32,334.90" fill="#f5aa6c"/>
<polygon points="124.43,329.90 122.13,334.90 126.73,334.90" fill="#f5aa6c"/>
<polygon points="130.84,329.90 128.54,334.90 133.14,334.90" fill="#f5aa6c"/>
<polygon points="137.26,329.90 134.96,334.90 139.56,334.90" fill="#f5aa6c"/>
<polygon points="143.67,329.90 141.37,334.90 145.97,334.90" fill="#f5aa6c"/>
<polygon points="150.08,329.90 147.78,334.90 152.38,334.90" fill="#f5aa6c"/>
<polygon points="156.50,329.90 154.19,334.90 158.80,334.90" fill="#f5aa6c"/>
<polygon points="162.91,329.90 160.61,334.90 165.21,334.90" fill="#f5aa6c"/>
<polygon points="169.32,329.90 167.02,334.90 171.62,334.90" fill="#f5aa6c"/>
<polygon points="175.73,329.90 173.43,334.90 178.03,334.90" fill="#f5aa6c"/>
<polygon points="182.15,329.90 179.85,334.90 184.45,334.90" fill="#f5aa6c"/>
<polygon points="188.56,329.90 186.26,334.90 190.86,334.90" fill="#f5aa6c"/>
<polygon points="194.97,329.90 192.67,334.90 197.27,334.90" fill="#f5aa6c"/>
<polygon points="201.39,329.90 199.09,334.90 203.69,334.90" fill="#f5aa6c"/>
<polygon points="207.80,329.90 205.50,334.90 210.10,334.90" fill="#f5aa6c"/>
<polygon points="214.21,329.90 211.91,334.90 216.51,334.90" fill="#f5aa6c"/>
<line x1="146.6" y1="280" x2="160.4" y2="280" stroke="#ff0000" stroke-width="1.5"/>
<circle cx="153.40" cy="280.00" r="2.2" fill="#ff0000"/>
<text x="168" y="283.4" font-size="10.8" text-anchor="start" >Lys + SDS</text>
<line x1="146.6" y1="294.7" x2="160.4" y2="294.7" stroke="#000" stroke-width="1.5"/>
<rect x="151.00" y="292.30" width="4.8" height="4.8" fill="#000"/>
<text x="168" y="298.2" font-size="10.8" text-anchor="start" >Lys + SDS + AC</text>
<line x1="146.6" y1="309.4" x2="160.4" y2="309.4" stroke="#f5aa6c" stroke-width="1.5"/>
<polygon points="153.40,307.10 150.90,312.10 155.90,312.10" fill="#f5aa6c"/>
<text x="168" y="312.9" font-size="10.8" text-anchor="start" >Lys</text>
<text x="315.5" y="203.6" font-size="12.2" text-anchor="start" >D)</text>
<defs>
<clipPath id="dc"><rect x="341" y="180" width="206.2" height="180"/></clipPath>
<filter id="nz" x="341" y="180" width="207" height="180" filterUnits="userSpaceOnUse" color-interpolation-filters="sRGB">
<feTurbulence type="fractalNoise" baseFrequency="0.8" numOctaves="2" seed="5" result="t"/>
<feColorMatrix in="t" type="matrix" values="1 0 0 0 0  1 0 0 0 0  1 0 0 0 0  0 0 0 0 1" result="g"/>
<feGaussianBlur in="g" stdDeviation="0.65" result="gb"/>
<feTurbulence type="fractalNoise" baseFrequency="0.12" numOctaves="2" seed="11" result="t2"/>
<feColorMatrix in="t2" type="matrix" values="1 0 0 0 0  1 0 0 0 0  1 0 0 0 0  0 0 0 0 1" result="g2"/>
<feComposite in="SourceGraphic" in2="gb" operator="arithmetic" k1="0" k2="1" k3="0.42" k4="-0.21" result="s1"/>
<feComposite in="s1" in2="g2" operator="arithmetic" k1="0" k2="1" k3="0.3" k4="-0.15" result="s2"/>
<feTurbulence type="fractalNoise" baseFrequency="0.33" numOctaves="1" seed="21" result="t3"/>
<feColorMatrix in="t3" type="matrix" values="1 0 0 0 0  1 0 0 0 0  1 0 0 0 0  0 0 0 0 1" result="g3"/>
<feGaussianBlur in="g3" stdDeviation="0.5" result="g3b"/>
<feComposite in="s2" in2="g3b" operator="arithmetic" k1="0" k2="1" k3="0.4" k4="-0.2"/>
</filter>
<filter id="b6" x="-50%" y="-50%" width="200%" height="200%"><feGaussianBlur stdDeviation="6"/></filter>
<filter id="b10" x="-50%" y="-50%" width="200%" height="200%"><feGaussianBlur stdDeviation="10"/></filter>
<filter id="b4" x="-50%" y="-50%" width="200%" height="200%"><feGaussianBlur stdDeviation="4"/></filter>
<filter id="b3" x="-50%" y="-50%" width="200%" height="200%"><feGaussianBlur stdDeviation="3"/></filter>
<filter id="b1" x="-20%" y="-20%" width="140%" height="140%"><feGaussianBlur stdDeviation="0.7"/></filter>
</defs>
<g clip-path="url(#dc)"><g filter="url(#nz)">
<rect x="341" y="180" width="207" height="180" fill="#a7a7a7"/>
<path d="M395,300 C430,285 470,268 500,250 C520,245 540,262 560,262 L560,370 L395,370 Z" fill="#b1b1b1" filter="url(#b10)"/>
<path d="M330,170 L560,170 L560,192 C520,196 480,206 437,218 C400,224 370,224 330,222 Z" fill="#aeaeae" filter="url(#b6)"/>
<path d="M335,228 C360,229 400,229 437,224 C455,220 470,214 480,210 C500,204 520,200 552,197 L552,236 C530,238 510,240 498,246 C488,256 470,266 450,272 C425,279 400,285 380,289 C365,292 350,294 335,294 Z" fill="#777" opacity="0.85" filter="url(#b4)"/>
<path d="M335,258 C370,262 420,266 450,264 C465,262 475,256 478,250 L482,262 C460,270 420,279 380,286 C360,289 345,290 335,290 Z" fill="#666" opacity="0.7" filter="url(#b3)"/>
<ellipse cx="533" cy="205" rx="20" ry="8" fill="#555" opacity="0.8" filter="url(#b3)"/>
<ellipse cx="505" cy="211" rx="22" ry="5" fill="#666" opacity="0.5" filter="url(#b3)"/>
<ellipse cx="545" cy="244" rx="10" ry="16" fill="#666" opacity="0.6" filter="url(#b4)"/>
<ellipse cx="468" cy="244" rx="16" ry="8" fill="#707070" opacity="0.5" filter="url(#b4)"/>
<path d="M484,212 C495,212 505,211 515,208 C525,205 537,203 548,202" fill="none" stroke="#4a4a4a" stroke-width="2.5" opacity="0.6" filter="url(#b1)"/>
<ellipse cx="466" cy="243" rx="14" ry="8" fill="#666" opacity="0.45" filter="url(#b3)"/>
<ellipse cx="350" cy="310" rx="12" ry="14" fill="#707070" opacity="0.55" filter="url(#b4)"/>
<path d="M360,298 C368,292 382,294 390,300 C398,307 396,318 390,324 C382,331 370,330 364,324 C358,318 355,305 360,298 Z" fill="#3a3a3a" opacity="0.6" filter="url(#b4)"/>
<ellipse cx="381" cy="306" rx="7" ry="6" fill="#333" opacity="0.5" filter="url(#b3)"/>
<ellipse cx="372" cy="322" rx="8" ry="5" fill="#333" opacity="0.45" filter="url(#b3)"/>
<ellipse cx="395" cy="314" rx="8" ry="6" fill="#555" opacity="0.35" filter="url(#b3)"/>
<ellipse cx="366" cy="309" rx="3.5" ry="4.5" fill="#8f8f8f" opacity="0.55" filter="url(#b1)"/>
<g fill="none" stroke="#c6c6c6" stroke-width="2.4" stroke-dasharray="14 1.2 8 1.8 20 1 6 1.4" opacity="0.68" filter="url(#b1)">
<path d="M340,261 C360,263 390,266 420,265 C445,264 465,262 476,253"/>
<path d="M340,288 C365,285 395,280 420,275 C445,271 468,265 480,259"/>
<path d="M444,236.6 C458,234 472,230 489,224 C500,220 510,217 520,216 C530,215 540,214 548,212.5"/>
</g>
<g fill="none" stroke="#cccccc" stroke-width="1.6" stroke-dasharray="4 1.5 2 1" opacity="0.7" filter="url(#b1)">
<path d="M341,199 C355,192 372,187 392,182"/>
<path d="M522,268 C530,266 540,264 548,262"/>
<path d="M403,309 C413,311 424,311 432,308"/>
<path d="M341,302 C348,302 355,303 362,303"/>
<path d="M341,318 C348,317 354,318 360,318"/>
<path d="M476,253 C481,248 483,241 481,234"/>
</g>
</g></g>
<rect x="341" y="360.3" width="206.2" height="8.6" fill="#000"/>
<line x1="422.2" y1="365.2" x2="446.6" y2="365.2" stroke="#d8d8d8" stroke-width="0.9"/>
<line x1="422.2" y1="363.6" x2="422.2" y2="366.8" stroke="#d8d8d8" stroke-width="0.7"/>
<line x1="446.6" y1="363.6" x2="446.6" y2="366.8" stroke="#d8d8d8" stroke-width="0.7"/>
<text x="448.3" y="367.0" font-size="5.3" style="fill:#e0e0e0;stroke:#e0e0e0;stroke-width:0.15px" textLength="17.2" lengthAdjust="spacingAndGlyphs">100 nm</text>
</svg>
</body></html>
